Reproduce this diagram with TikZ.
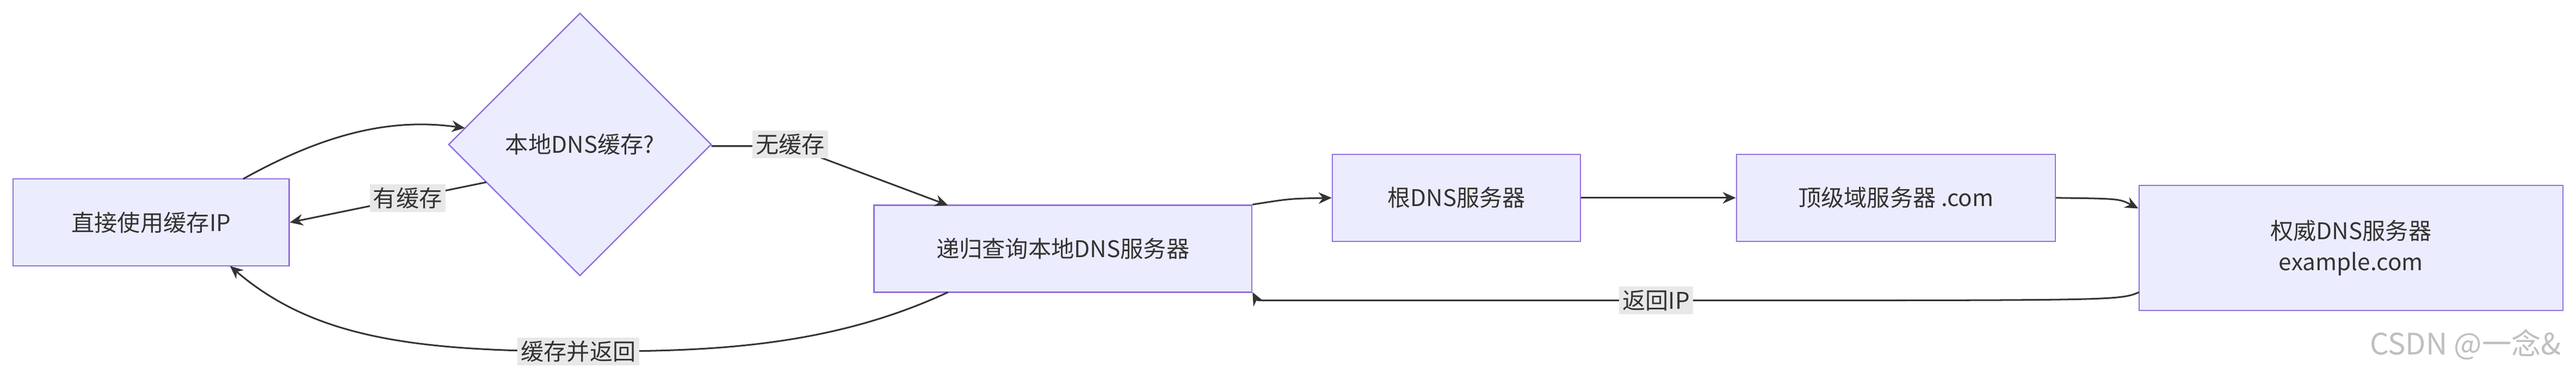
\documentclass[tikz,border=0pt]{standalone}
\usepackage{fontspec}
\setmainfont{Noto Sans CJK SC}
\usetikzlibrary{shapes.geometric,arrows.meta}
\definecolor{nfill}{HTML}{ECECFF}
\definecolor{nline}{HTML}{9370DB}
\definecolor{lbl}{HTML}{E8E8E8}
\begin{document}
\begin{tikzpicture}[x=0.5pt,y=-0.5pt,
  box/.style={draw=nline,fill=nfill,line width=0.4pt,inner sep=0pt,align=center,font=\fontsize{7}{9.5}\selectfont,text=black!80},
  e/.style={draw=black!80,line width=0.5pt,-{Stealth[length=4pt,width=3.5pt]}},
  lb/.style={fill=lbl,inner sep=1pt,font=\fontsize{7}{8}\selectfont,text=black!80}]
\useasboundingbox (0,0) rectangle (1568,235);
\node[box,minimum width=84pt,minimum height=26.5pt] (a) at (92,135.5) {直接使用缓存IP};
\node[box,diamond,minimum width=80pt,minimum height=80pt] (d) at (353,88) {本地DNS缓存?};
\node[box,minimum width=115pt,minimum height=26.5pt] (r) at (647,151.5) {递归查询本地DNS服务器};
\node[box,minimum width=75.5pt,minimum height=26.5pt] (root) at (886.5,120.5) {根DNS服务器};
\node[box,minimum width=97pt,minimum height=26.5pt] (t) at (1154,120.5) {顶级域服务器 .com};
\node[box,minimum width=129pt,minimum height=38pt] (au) at (1431,151) {权威DNS服务器\\example.com};
\coordinate (a1) at (148,109);
\coordinate (d1) at (283,78);
\draw[e] (a1) .. controls (200,80) and (240,72) .. (d1);
\coordinate (d2) at (296,111);
\draw[e] (d2) -- node[lb,pos=0.4]{有缓存} (a.east);
\coordinate (d3) at (433,89);
\coordinate (r1) at (577,125);
\coordinate (m1) at (481,89);
\draw[e] (d3) -- (m1) -- (r1);
\node[lb] at (481,88) {无缓存};
\coordinate (r2) at (577,178);
\coordinate (m2) at (352,214);
\coordinate (a2) at (140,162);
\draw[e] (r2) .. controls (500,214) and (420,214) .. (m2) .. controls (250,214) and (190,205) .. (a2);
\node[lb] at (352,214) {缓存并返回};
\draw[e] (r.north east) .. controls (785,121) .. (root.west);
\draw[e] (root) -- (t);
\draw[e] (t.east) .. controls (1290,121) .. (au.west |- 0,127);
\coordinate (u1) at (1302,178);
\coordinate (m3) at (1032,183);
\draw[e] (u1) .. controls (1290,183) .. (m3) -- (780,183) .. controls (765,183) .. (r.south east |- 0,178);
\node[lb] at (1008,183) {返回IP};
\node[text=black!25,font=\fontsize{9}{10}\selectfont,anchor=east] (wm) at (1566,210) {CSDN @一念\&};
\end{tikzpicture}
\end{document}
